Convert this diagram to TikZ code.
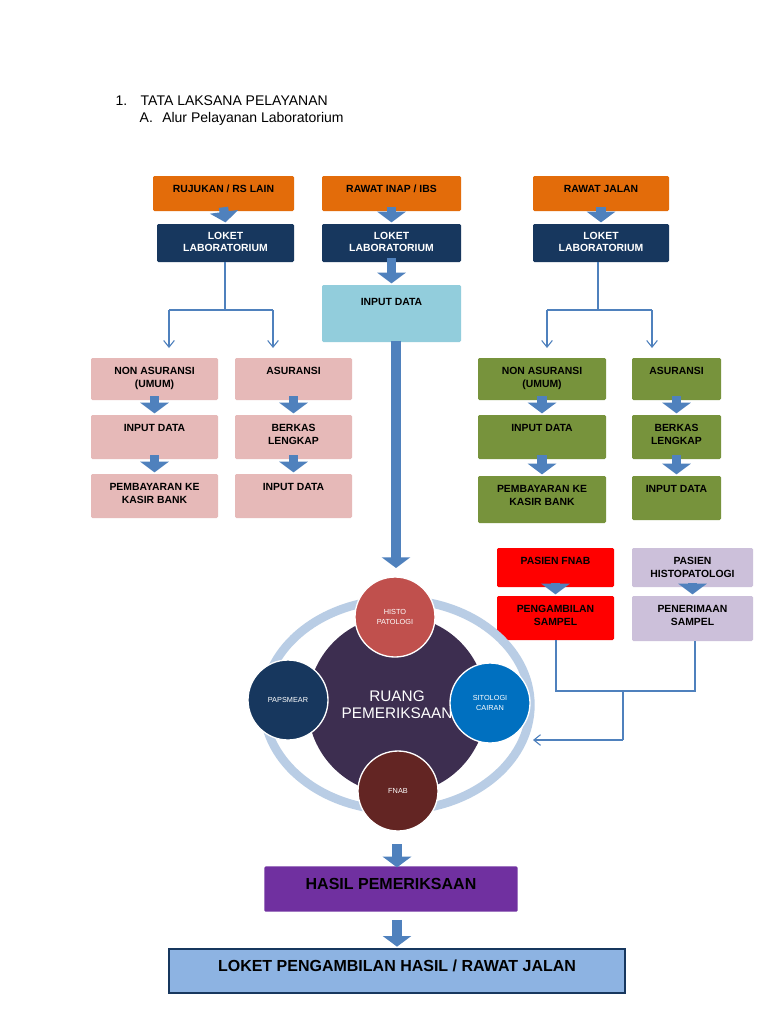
\documentclass[tikz,border=0pt]{standalone}
\usepackage{fontspec}
\setmainfont{Liberation Sans}
\usetikzlibrary{arrows.meta}
\definecolor{org}{HTML}{E36C0A}
\definecolor{navy}{HTML}{17375E}
\definecolor{lblue}{HTML}{92CDDC}
\definecolor{pinkb}{HTML}{E6B9B8}
\definecolor{grn}{HTML}{77933C}
\definecolor{lav}{HTML}{CCC0DA}
\definecolor{arr}{HTML}{4F81BD}
\definecolor{ringc}{HTML}{B9CDE5}
\definecolor{purp}{HTML}{3D2E50}
\definecolor{histo}{HTML}{C0504D}
\definecolor{sito}{HTML}{0070C0}
\definecolor{fnab}{HTML}{632523}
\definecolor{hasil}{HTML}{7030A0}
\definecolor{loketb}{HTML}{8DB3E2}
\tikzset{
 box/.style={rectangle,draw=none,rounded corners=1pt,inner sep=0pt},
 bt/.style={font=\bfseries\fontsize{7.8}{9.4}\selectfont,align=center,anchor=north,inner sep=0pt},
 fat/.style={draw=arr,line width=7pt,-{Triangle[width=21pt,length=8pt]}},
 thin/.style={draw=arr,line width=0.8pt,-{Straight Barb[length=5pt,width=8pt]}},
 thinl/.style={draw=arr,line width=0.8pt},
 circ/.style={circle,inner sep=0pt,minimum size=60pt,text=white,font=\fontsize{5.5}{8}\selectfont,align=center,draw=white,line width=1pt},
}
\newcommand\bx[8]{\node[box,#6,minimum width={(#4-#2)*0.75pt},minimum height={(#5-#3)*0.75pt}] (#1) at ({(#2+#4)/2},{(#3+#5)/2}) {};
\node[bt,#8] (#1t) at ([yshift=-7pt]#1.north) {#7};}
\begin{document}
\begin{tikzpicture}[x=0.75pt,y=-0.75pt]
\useasboundingbox[fill=white] (0,0) rectangle (768,1024);
\node[anchor=west,font=\fontsize{10.5}{12}\selectfont] (t1) at (111,101) {1.\hspace{10pt}TATA LAKSANA PELAYANAN};
\node[anchor=west,font=\fontsize{10.5}{12}\selectfont] (t2) at (135,119) {A.\hspace{7pt}Alur Pelayanan Laboratorium};
% top row
\bx{o1}{153}{176}{294}{211}{fill=org}{RUJUKAN / RS LAIN}{text=black}
\bx{o2}{322}{176}{461}{211}{fill=org}{RAWAT INAP / IBS}{text=black}
\bx{o3}{533}{176}{669}{211}{fill=org}{RAWAT JALAN}{text=black}
\bx{l1}{157}{224}{294}{262}{fill=navy}{LOKET\\LABORATORIUM}{text=white,yshift=1pt}
\bx{l2}{322}{224}{461}{262}{fill=navy}{LOKET\\LABORATORIUM}{text=white,yshift=1pt}
\bx{l3}{533}{224}{669}{262}{fill=navy}{LOKET\\LABORATORIUM}{text=white,yshift=1pt}
\bx{in}{322}{285}{461}{342}{fill=lblue}{INPUT DATA}{text=black,yshift=-3pt}
% pink
\bx{p1}{91}{358}{218}{400}{fill=pinkb}{NON ASURANSI\\(UMUM)}{text=black}
\bx{p2}{91}{415}{218}{459}{fill=pinkb}{INPUT DATA}{text=black}
\bx{p3}{91}{474}{218}{518}{fill=pinkb}{PEMBAYARAN KE\\KASIR BANK}{text=black}
\bx{q1}{235}{358}{352}{400}{fill=pinkb}{ASURANSI}{text=black}
\bx{q2}{235}{415}{352}{459}{fill=pinkb}{BERKAS\\LENGKAP}{text=black}
\bx{q3}{235}{474}{352}{518}{fill=pinkb}{INPUT DATA}{text=black}
% green
\bx{g1}{478}{358}{606}{400}{fill=grn}{NON ASURANSI\\(UMUM)}{text=black}
\bx{g2}{478}{415}{606}{459}{fill=grn}{INPUT DATA}{text=black}
\bx{g3}{478}{476}{606}{523}{fill=grn}{PEMBAYARAN KE\\KASIR BANK}{text=black}
\bx{h1}{632}{358}{721}{400}{fill=grn}{ASURANSI}{text=black}
\bx{h2}{632}{415}{721}{459}{fill=grn}{BERKAS\\LENGKAP}{text=black}
\bx{h3}{632}{476}{721}{520}{fill=grn}{INPUT DATA}{text=black}
% red / lavender
\bx{r1}{497}{548}{614}{587}{fill=red}{PASIEN FNAB}{text=black}
\bx{r2}{497}{596}{614}{640}{fill=red}{PENGAMBILAN\\SAMPEL}{text=black}
\bx{v1}{632}{548}{753}{587}{fill=lav}{PASIEN\\HISTOPATOLOGI}{text=black}
\bx{v2}{632}{596}{753}{641}{fill=lav}{PENERIMAAN\\SAMPEL}{text=black}
% fat arrows
\foreach \a/\b in {o1/l1,o2/l2,o3/l3,l2/in,p1/p2,p2/p3,q1/q2,q2/q3,g1/g2,g2/g3,h1/h2,h2/h3,r1/r2,v1/v2}
  \draw[fat] ([yshift=3pt]\a.south) -- ([yshift=1pt]\b.north);
% thin branches
\coordinate (j1) at (225,310); \coordinate (j1a) at (169,310); \coordinate (j1b) at (273,310);
\coordinate (d1a) at (169,348); \coordinate (d1b) at (273,348);
\draw[thinl] (l1.south -| j1) -- (j1); \draw[thinl] (j1a) -- (j1b);
\draw[thin] (j1a) -- (d1a); \draw[thin] (j1b) -- (d1b);
\coordinate (j3) at (598,310); \coordinate (j3a) at (547,310); \coordinate (j3b) at (652,310);
\coordinate (d3a) at (547,348); \coordinate (d3b) at (652,348);
\draw[thinl] (l3.south -| j3) -- (j3); \draw[thinl] (j3a) -- (j3b);
\draw[thin] (j3a) -- (d3a); \draw[thin] (j3b) -- (d3b);
% ring
\coordinate (c) at (397,705);
\draw[ringc,line width=6.5pt] (c) ellipse [x radius=100pt, y radius=79pt];
\node[circle,fill=purp,minimum size=134pt,inner sep=0pt,text=white,align=center,font=\fontsize{11.5}{13}\selectfont] (ru) at (c) {RUANG\\PEMERIKSAAN};
\node[circ,fill=histo] (hi) at (395,617) {HISTO\\PATOLOGI};
\node[circ,fill=navy] (pa) at (288,700) {PAPSMEAR};
\node[circ,fill=sito] (si) at (490,703) {SITOLOGI\\CAIRAN};
\node[circ,fill=fnab] (fn) at (398,791) {FNAB};
% long arrow
\coordinate (lae) at (396,568);
\draw[fat] ([yshift=1pt]in.south -| lae) -- (lae);
% sample lines
\coordinate (s1) at (556,691); \coordinate (s2) at (695,691); \coordinate (s3) at (623,691);
\coordinate (s4) at (623,740); \coordinate (s5) at (533,740);
\draw[thinl] (r2.south -| s1) -- (s1) -- (s2) -- (v2.south -| s2);
\draw[thinl] (s3) -- (s4); \draw[thin] (s4) -- (s5);
% bottom
\node[box,fill=hasil,minimum width=190pt,minimum height=34pt] (ha) at (391,889) {};
\node[font=\bfseries\fontsize{12}{13}\selectfont,inner sep=0pt] (hat) at (391,884) {HASIL PEMERIKSAAN};
\node[box,fill=loketb,draw=navy,line width=1.5pt,rounded corners=0pt,minimum width=342pt,minimum height=33pt] (lp) at (397,971) {};
\node[font=\bfseries\fontsize{12}{13}\selectfont,inner sep=0pt] (lpt) at (397,966) {LOKET PENGAMBILAN HASIL / RAWAT JALAN};
\coordinate (b1) at (397,844);
\draw[fat] (b1) -- ([yshift=-1pt]ha.north -| b1);
\draw[fat] ([yshift=-6pt]ha.south -| b1) -- ([yshift=1pt]lp.north -| b1);
\end{tikzpicture}
\end{document}
